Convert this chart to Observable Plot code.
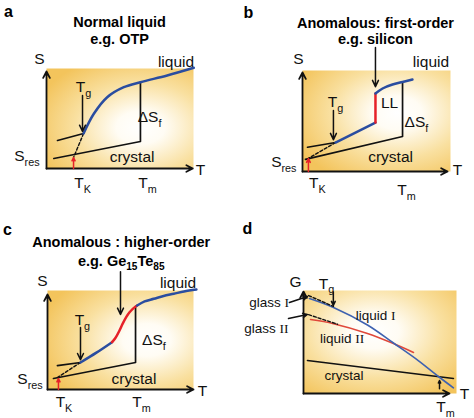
<!DOCTYPE html>
<html><head><meta charset="utf-8">
<script src="https://cdn.jsdelivr.net/npm/d3@7"></script>
<script src="https://cdn.jsdelivr.net/npm/@observablehq/plot@0.6"></script>
<style>
body{margin:0;background:#fff;}
#fig{position:relative;width:474px;height:418px;}
#fig svg{position:absolute;overflow:visible;}
</style></head><body><div id="fig"></div>
<script>
// Schematic units: T and S (or G) run 0–100 across each shaded box.

// ---------- Panel a: Normal liquid ----------
const aTitle   = ["Normal liquid", "e.g. OTP"];
const aLiquid  = [[25.2,35],[32.2,54.7],[41.3,71.3],[52.6,81.3],[63.9,86.3],[82.1,93],[100.2,100.7]];
const aCrystal = [[5,10],[63.9,27],[63.9,86.3]];
const aGlass   = [[7.5,28],[25.2,35]];
const aDash    = [[25.2,35],[18.4,11]];
const aTgArrow = [{x1:24.5,y1:73,x2:24.5,y2:37}];
const aKArrow  = [{x1:18.4,y1:0,x2:18.4,y2:11}];
const aAxes    = [{x1:0,y1:0,x2:0,y2:97},{x1:0,y1:0,x2:99.5,y2:0}];
const aLabels  = [
  {label:"S",T:-4.8,S:109},{label:"T",T:104.8,S:-2},{label:"liquid",T:88.1,S:106},
  {label:"crystal",T:58.2,S:11},{label:"T_{g}",T:25.2,S:81},{label:"ΔS_{f}",T:70.1,S:51},
  {label:"S_{res}",T:-13.3,S:12},{label:"T_{K}",T:24.5,S:-15},{label:"T_{m}",T:68.7,S:-15}
];

// ---------- Panel b: Anomalous first-order ----------
const bTitle     = ["Anomalous: first-order", "e.g. silicon"];
const bLiqLow    = [[22.3,28.7],[49.3,48.5]];
const bJump      = [[49.3,48.5],[49.3,77.2]];
const bLiqHigh   = [[49.3,77.2],[54.1,82.2],[60.8,86.1],[67.6,88.6],[74.3,91.1]];
const bCrystal   = [[2,12],[67.6,34.7],[67.6,88.6]];
const bGlass     = [[3.4,24],[22.3,28.7]];
const bDash      = [[22.3,28.7],[4,13]];
const bTgArrow   = [{x1:20.9,y1:60.4,x2:20.9,y2:31.5}];
const bLLArrow   = [{x1:49.3,y1:122.8,x2:49.3,y2:84}];
const bKArrow    = [{x1:4,y1:0,x2:4,y2:12.9}];
const bAxes      = [{x1:0,y1:0,x2:0,y2:98},{x1:0,y1:0,x2:98,y2:0}];
const bLabels    = [
  {label:"S",T:-2.7,S:110.9},{label:"T",T:104.7,S:1},{label:"liquid",T:86.8,S:107.9},
  {label:"crystal",T:59.5,S:13.9},{label:"LL",T:58.8,S:67.3},{label:"ΔS_{f}",T:77,S:48.5},
  {label:"T_{g}",T:22.3,S:68.8},{label:"S_{res}",T:-12.6,S:8.9},{label:"T_{K}",T:10.1,S:-11.9},
  {label:"T_{m}",T:70.3,S:-18.8}
];

// ---------- Panel c: Anomalous higher-order ----------
const cTitle     = ["Anomalous : higher-order", "e.g. Ge_{15}Te_{85}"];
const cLiqLow    = [[22.6,27.3],[33.5,37.2],[44.2,47.8]];
const cTransit   = [[44.2,47.8],[46.5,52],[49.3,59.6],[51.5,66.5],[53.9,73.1],[56.2,78],[58.4,81.5],[61.4,84.8]];
const cLiqHigh   = [[61.4,84.8],[66.5,89],[72.8,91.6],[79.5,94.5],[86.5,96.7],[93.5,99],[102,101]];
const cCrystal   = [[4.1,11.1],[60.3,27.3],[60.3,84]];
const cGlass     = [[6.8,24.2],[22.6,27.3]];
const cDash      = [[22.6,27.3],[6.8,12.1]];
const cTgArrow   = [{x1:22.6,y1:62.6,x2:22.6,y2:30}];
const cTrArrow   = [{x1:50,y1:119,x2:50,y2:75.8}];
const cKArrow    = [{x1:7.5,y1:0,x2:7.5,y2:11}];
const cAxes      = [{x1:0,y1:0,x2:0,y2:96},{x1:0,y1:0,x2:100,y2:0}];
const cLabels    = [
  {label:"S",T:-3.4,S:110},{label:"T",T:106.2,S:-2},{label:"liquid",T:89.4,S:108},
  {label:"crystal",T:59.2,S:10.1},{label:"ΔS_{f}",T:72.9,S:49.5},{label:"T_{g}",T:23.9,S:69.7},
  {label:"S_{res}",T:-12,S:10.1},{label:"T_{K}",T:11.3,S:-13.1},{label:"T_{m}",T:64.4,S:-13.1}
];

// ---------- Panel d: Gibbs free energy ----------
const dLiquidI   = [[3.9,92.2],[19.6,83.5],[41.8,66.5],[58.8,49],[75,32],[88.2,16.5],[98,5.5]];
const dLiquidII  = [[4.6,71.8],[19.6,67.8],[41.8,58.3],[58.8,48.5],[71.9,39.8]];
const dCrystal   = [[2.6,32],[98,14.6]];
const dGlassI    = [[3.3,95.1],[19.6,84.5]];
const dGlassII   = [[3.3,76.5],[22.2,67.3]];
const dTgArrow   = [{x1:19.5,y1:98.5,x2:19.5,y2:85.5}];
const dTmArrow   = [{x1:88.9,y1:4.5,x2:88.9,y2:12.6}];
const dGlassArr  = [{x1:-9.2,y1:88.3,x2:2.6,y2:94.2},{x1:-9.8,y1:72.8,x2:2.6,y2:76.7}];
const dAxes      = [{x1:0,y1:0,x2:0,y2:99},{x1:0,y1:0,x2:95.4,y2:0}];
const dBigLabels = [
  {label:"G",T:-5.2,S:108.7},{label:"T",T:105.2,S:-1},{label:"T_{g}",T:15,S:106.5},{label:"T_{m}",T:92.8,S:-13.6}
];
const dLabels    = [
  {label:"glass ~{I}",T:-22.5,S:88.3},{label:"glass ~{II}",T:-24.2,S:63.1},
  {label:"liquid ~{I}",T:47.1,S:75.7},{label:"liquid ~{II}",T:25.2,S:53.4},{label:"crystal",T:26.5,S:17.5}
];

const panelLetters = ["a","b","c","d"];

const BLUE = "#2a4da0", RED = "#e62129", INK = "#111";
const SANS = "'Liberation Sans', Arial, Helvetica, sans-serif";

function common(axes) {
  return [Plot.arrow(axes, {x1:"x1",y1:"y1",x2:"x2",y2:"y2",stroke:INK,strokeWidth:1.8,headLength:6,headAngle:55})];
}
function arrows(data, color, len = 7) {
  return Plot.arrow(data, {x1:"x1",y1:"y1",x2:"x2",y2:"y2",stroke:color,strokeWidth:1.5,headLength:len,headAngle:50});
}
function labels(data, size) {
  return Plot.text(data, {x:"T", y:"S", text:"label", fontSize:size, fill:INK});
}
function title(lines, x, y1, y2) {
  return Plot.text(lines, {x:() => x, y:(d,i) => i === 0 ? y1 : y2, text:d => d, fontSize:14.5, fontWeight:"bold"});
}
function letter(ch, x, y) {
  return Plot.text([ch], {x:() => x, y:() => y, text:d => d, fontSize:16, fontWeight:"bold"});
}

function makePanel(id, m, grad, marks, left, top) {
  const svg = Plot.plot({
    width:237, height:209,
    marginLeft:m[0], marginRight:m[1], marginTop:m[2], marginBottom:m[3],
    x:{domain:[0,100], axis:null}, y:{domain:[0,100], axis:null},
    style:{fontFamily:SANS, background:"transparent", overflow:"visible"},
    marks:[Plot.frame({fill:`url(#${id})`, stroke:"none"}), ...marks]
  });
  const defs = d3.select(svg).insert("defs", ":first-child");
  const g = defs.append("radialGradient").attr("id", id)
    .attr("cx", grad[0]).attr("cy", grad[1]).attr("fx", grad[0]).attr("fy", grad[1]).attr("r", grad[2]);
  g.append("stop").attr("offset", 0).attr("stop-color", "#ffffff");
  g.append("stop").attr("offset", 0.22).attr("stop-color", "#fffcf4");
  g.append("stop").attr("offset", 0.6).attr("stop-color", "#f9e0a0");
  g.append("stop").attr("offset", 1).attr("stop-color", "#f3c45c");
  svg.style.left = left + "px"; svg.style.top = top + "px";
  document.getElementById("fig").appendChild(svg);
  richText(svg);
  return svg;
}

// Turn "_{x}" into subscripts and "~{x}" into serif runs.
function richText(svg) {
  svg.querySelectorAll("text").forEach(t => {
    const s = t.textContent;
    if (!/[_~]\{/.test(s)) return;
    const fs = parseFloat(getComputedStyle(t).fontSize) || 15;
    const shift = fs * 0.3;
    while (t.firstChild) t.removeChild(t.firstChild);
    const re = /([_~])\{([^}]*)\}|([^_~]+)/g;
    let m, down = false;
    while ((m = re.exec(s))) {
      const ts = document.createElementNS("http://www.w3.org/2000/svg", "tspan");
      if (m[1] === "_") {
        ts.setAttribute("font-size", (fs * 0.7).toFixed(1));
        if (!down) ts.setAttribute("dy", shift.toFixed(1));
        down = true; ts.textContent = m[2];
      } else {
        if (down) { ts.setAttribute("dy", (-shift).toFixed(1)); down = false; }
        ts.setAttribute("font-family", m[1] === "~" ? "'Liberation Serif', 'Times New Roman', serif" : SANS);
        ts.textContent = m[1] === "~" ? m[2] : m[3];
      }
      t.appendChild(ts);
    }
  });
}

const dash = {stroke:INK, strokeWidth:1.4, strokeDasharray:"3,2"};
const solid = {stroke:INK, strokeWidth:1.7};

// Panel a
makePanel("gA", [46,44,68,41], [0.64,0.59,0.75], [
  Plot.line(aCrystal, solid),
  Plot.line(aGlass, solid),
  Plot.line(aDash, dash),
  Plot.line(aLiquid, {stroke:BLUE, strokeWidth:2.5, curve:"catmull-rom"}),
  ...common(aAxes),
  arrows(aTgArrow, INK),
  arrows(aKArrow, RED, 5),
  labels(aLabels, 15.5),
  title(aTitle, 49.7, 146, 129),
  letter(panelLetters[0], -25.9, 157)
], 0, 0);

// Panel b
makePanel("gB", [65,24,70,38], [0.64,0.42,0.75], [
  Plot.line(bCrystal, solid),
  Plot.line(bGlass, solid),
  Plot.line(bDash, dash),
  Plot.line(bLiqLow, {stroke:BLUE, strokeWidth:2.5}),
  Plot.line(bJump, {stroke:RED, strokeWidth:2.5}),
  Plot.line(bLiqHigh, {stroke:BLUE, strokeWidth:2.5, curve:"catmull-rom"}),
  ...common(bAxes),
  arrows(bTgArrow, INK),
  arrows(bLLArrow, INK),
  arrows(bKArrow, RED, 5),
  labels(bLabels, 15.5),
  title(bTitle, 49.3, 146.5, 130.7),
  letter(panelLetters[1], -36.5, 157.4)
], 237, 0);

// Panel c
makePanel("gC", [47,44,81,29], [0.68,0.5,0.75], [
  Plot.line(cCrystal, solid),
  Plot.line(cGlass, solid),
  Plot.line(cDash, dash),
  Plot.line(cLiqLow, {stroke:BLUE, strokeWidth:2.5, curve:"catmull-rom"}),
  Plot.line(cTransit, {stroke:RED, strokeWidth:2.5, curve:"catmull-rom"}),
  Plot.line(cLiqHigh, {stroke:BLUE, strokeWidth:2.5, curve:"catmull-rom"}),
  ...common(cAxes),
  arrows(cTgArrow, INK),
  arrows(cTrArrow, INK),
  arrows(cKArrow, RED, 5),
  labels(cLabels, 15.5),
  title(cTitle, 50.5, 148.5, 129.3),
  letter(panelLetters[2], -27.4, 161.6)
], 0, 209);

// Panel d
makePanel("gD", [66,18,81,25], [0.46,0.4,0.75], [
  Plot.line(dCrystal, {stroke:INK, strokeWidth:1.6}),
  Plot.line(dLiquidII, {stroke:"#e0483a", strokeWidth:1.6, curve:"catmull-rom"}),
  Plot.line(dLiquidI, {stroke:"#3f62b0", strokeWidth:1.6, curve:"catmull-rom"}),
  Plot.line(dGlassI, dash),
  Plot.line(dGlassII, dash),
  ...common(dAxes),
  arrows(dTgArrow, INK, 5),
  arrows(dTmArrow, INK, 4),
  arrows(dGlassArr, INK, 5),
  labels(dBigLabels, 15.5),
  labels(dLabels, 13.5),
  letter(panelLetters[3], -36.6, 160.2)
], 237, 209);
</script></body></html>
